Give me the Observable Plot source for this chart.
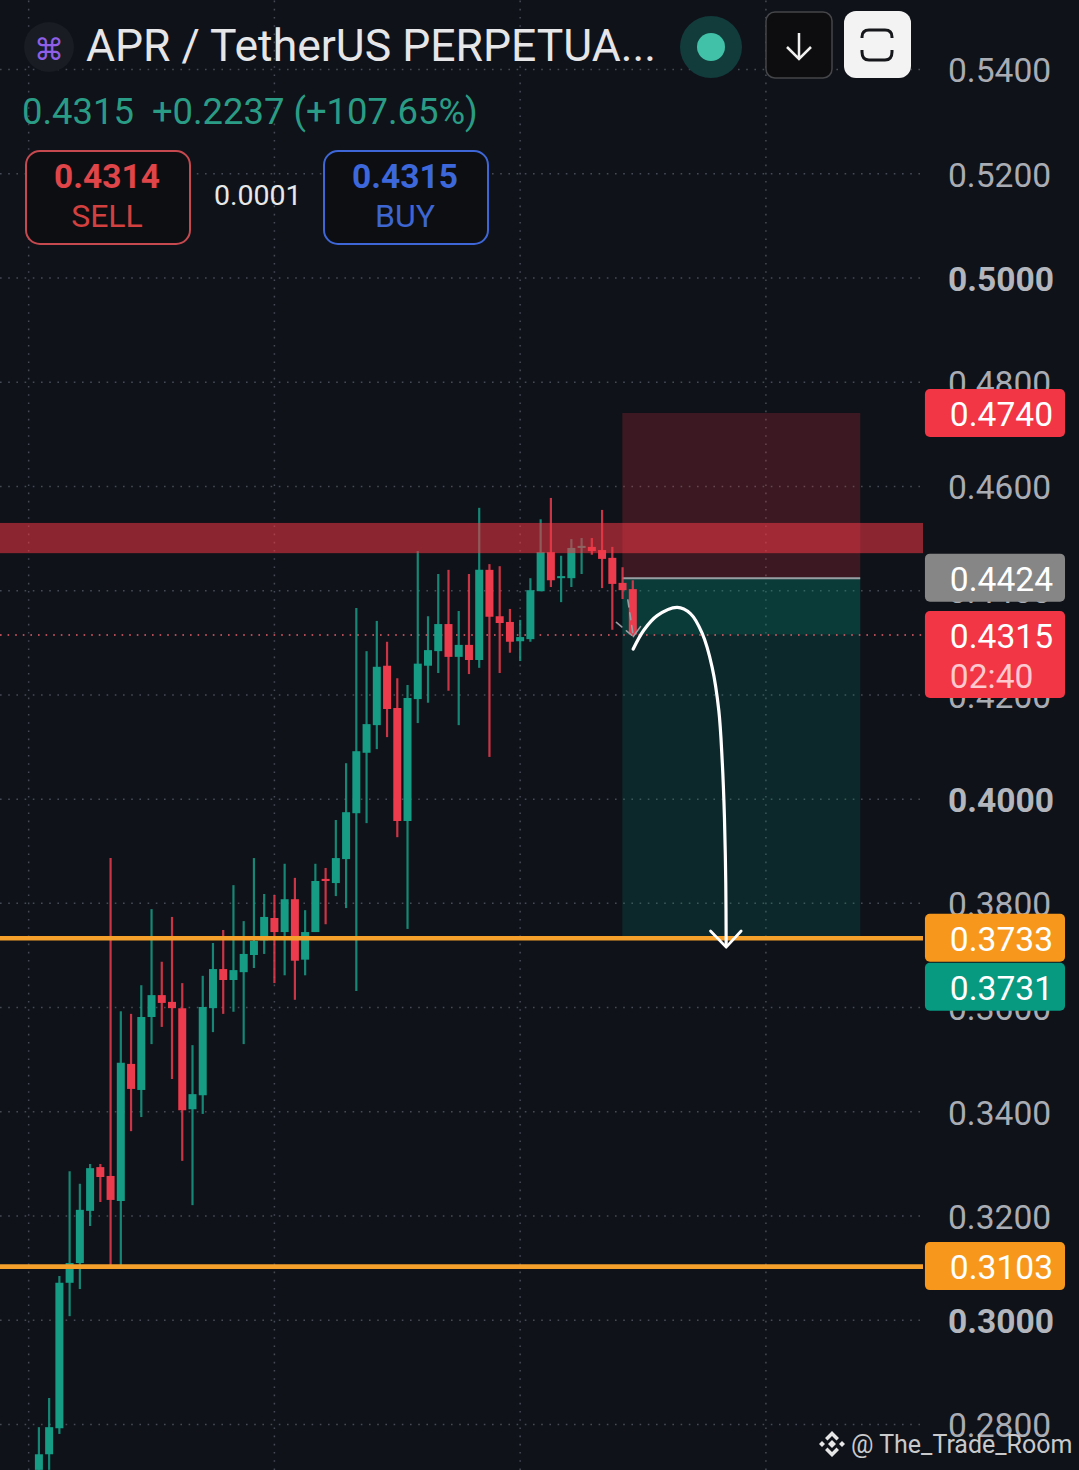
<!DOCTYPE html>
<html><head><meta charset="utf-8">
<script src="https://cdn.jsdelivr.net/npm/d3@7"></script>
<script src="https://cdn.jsdelivr.net/npm/@observablehq/plot@0.6"></script>
<style>
html,body{margin:0;padding:0;background:#0f1219;overflow:hidden}
#wrap{position:relative;width:1079px;height:1470px;font-family:Roboto,sans-serif}
#chart svg{display:block}
.o{position:absolute;white-space:nowrap;line-height:1}
.box{position:absolute;box-sizing:border-box;background:#0d0e11;border:2.5px solid;border-radius:15px;width:166px;height:95px;top:150px;text-align:center}
.box div{position:absolute;left:-2px;right:0;line-height:1}
</style></head><body>
<div id="wrap"><div id="chart"></div>
<svg class="o" style="left:0;top:0" width="1079" height="100">
  <circle cx="49" cy="47" r="25" fill="#191c22"/>
  <circle cx="711" cy="47" r="31" fill="#123c3c"/><circle cx="711" cy="47" r="14" fill="#41c1a7"/>
  <rect x="766" y="12" width="66" height="66" rx="9" fill="#0d0d0f" stroke="#45464a" stroke-width="1.5"/>
  <path d="M799 33V59M787 47L799 59L811 47" fill="none" stroke="#f0f0f0" stroke-width="2.5"/>
  <rect x="844" y="11" width="67" height="67" rx="12" fill="#f3f3f3"/>
  <path d="M862 38V37Q862 30 869 30H885Q892 30 892 37V38M862 50V52Q862 60 869 60H885Q892 60 892 52V50" fill="none" stroke="#15171b" stroke-width="3"/>
</svg>
<div class="o" style="left:34px;top:32px;width:30px;text-align:center;font:30px 'DejaVu Sans';color:#8f5fe8">⌘</div>
<div class="o" style="left:86px;top:24px;font-size:44.5px;color:#e6e6e9">APR / TetherUS PERPETUA...</div>
<div class="o" style="left:22px;top:94px;font-size:36.4px;color:#2a9c85">0.4315&nbsp; +0.2237 (+107.65%)</div>
<div class="box" style="left:25px;border-color:#c6494f"><div style="top:8px;font-size:33.5px;font-weight:700;color:#df4549">0.4314</div><div style="top:48px;font-size:32px;color:#d2403f">SELL</div></div>
<div class="o" style="left:214px;top:182px;font-size:28.5px;color:#e8e8e8">0.0001</div>
<div class="box" style="left:323px;border-color:#3e66d6"><div style="top:8px;font-size:33.5px;font-weight:700;color:#3d68dc">0.4315</div><div style="top:48px;font-size:32px;color:#3d66d2">BUY</div></div>
<svg class="o" style="left:818px;top:1430px" width="28" height="28" viewBox="0 0 28 28" fill="#e6e6e6">
  <path d="M14 1L21 8L18.5 10.5L14 6L9.500 10.500L7 8Z"/>
  <path d="M14 27L21 20L18.500 17.500L14 22L9.500 17.500L7 20Z"/>
  <path d="M14 10L18 14L14 18L10 14Z"/>
  <path d="M4 11L7 14L4 17L1 14Z"/>
  <path d="M24 11L27 14L24 17L21 14Z"/>
</svg>
<div class="o" style="left:851px;top:1432px;font-size:25px;color:#c9cacc">@ The_Trade_Room</div>
</div>
<script>
const opens=[.2712,.2742,.2792,.3071,.3109,.3209,.3293,.3276,.3228,.3491,.3441,.3581,.3623,.3610,.3598,.3404,.3431,.3598,.3673,.3652,.3667,.3700,.3728,.3771,.3744,.3807,.3691,.3744,.3846,.3838,.3884,.3972,.4088,.4141,.4255,.4174,.3957,.4191,.4255,.4283,.4335,.4272,.4295,.4266,.4439,.4350,.4339,.4302,.4306,.4398,.4473,.4423,.4423,.4481,.4483,.4477,.4462,.4414,.4402];
const highs=[.2794,.2850,.3084,.3285,.3261,.3299,.3299,.3886,.3592,.3587,.3642,.3788,.3687,.3773,.3646,.3527,.3660,.3723,.3748,.3834,.3765,.3886,.3817,.3815,.3875,.3848,.3786,.3875,.3867,.3959,.4068,.4366,.4283,.4341,.4301,.4231,.4218,.4475,.4350,.4431,.4439,.4360,.4431,.4558,.4450,.4446,.4364,.4343,.4423,.4536,.4577,.4466,.4498,.4500,.4500,.4554,.4483,.4444,.4419];
const lows=[.2712,.2712,.2781,.3007,.3059,.3180,.3226,.3103,.3103,.3362,.3389,.3529,.3562,.3462,.3305,.3220,.3395,.3552,.3587,.3591,.3529,.3675,.3702,.3646,.3661,.3614,.3661,.3744,.3759,.3813,.3790,.3631,.3953,.4095,.4118,.3926,.3750,.4145,.4184,.4241,.4207,.4141,.4239,.4251,.4080,.4241,.4280,.4264,.4301,.4398,.4406,.4377,.4406,.4431,.4468,.4404,.4324,.4383,.4312];
const closes=[.2742,.2794,.3071,.3109,.3211,.3291,.3274,.3230,.3493,.3443,.3581,.3623,.3608,.3598,.3402,.3433,.3600,.3673,.3652,.3671,.3702,.3727,.3773,.3744,.3807,.3689,.3744,.3842,.3842,.3886,.3974,.4091,.4143,.4253,.4172,.3957,.4193,.4259,.4285,.4335,.4272,.4295,.4266,.4439,.4349,.4337,.4301,.4310,.4400,.4473,.4419,.4427,.4481,.4485,.4475,.4460,.4412,.4400,.4315];
const regularTicks=[.54,.52,.48,.46,.44,.42,.38,.36,.34,.32,.28];
const boldTicks=[.50,.40,.30];
const sessionBreaks=[-1,23,47,71];
const curveX=[58.04,59.07,60.38,62.34,63.63,64.78,65.75,66.4,66.73,66.95,67.08,67.12];
const curveY=[.4288,.4324,.4352,.4368,.4356,.4318,.4253,.4170,.4074,.3965,.3838,.3719];
const headX=[65.59,67.12,68.58];
const headY=[.3747,.3716,.3747];
const supportLevels=[.3733,.3103];
const lastPrice=.4315, entry=.4424, stopLoss=.4740, target=.3733;
const zoneLow=.4471, zoneHigh=.4529;

const bars=opens.map((o,i)=>({i,o,h:highs[i],l:lows[i],c:closes[i]}));
const up="#169c85",down="#ec3b4d";
const col=d=>d.c>=d.o?up:down;
const left=-3.75,right=86.39,boxL=57.03,boxR=80.26,badgeL=86.58,badgeR=100.26,textX=88.96;
const allTicks=[...regularTicks,...boldTicks];
const dots={stroke:"#5a5e68",strokeDasharray:"1.6,6.6",strokeWidth:1.5,strokeOpacity:.75};
const pts=(xs,ys)=>xs.map((x,k)=>({x,y:ys[k]}));
function badge(value,fill,label,o={}){
  const top=o.top??24,bottom=o.bottom??24,dy=o.dy??0;
  return [
    Plot.rect([value],{x1:badgeL,x2:badgeR,y1:d=>d,y2:d=>d,insetTop:-top,insetBottom:-bottom,rx:5,fill,dy}),
    Plot.text([value],{x:textX,y:d=>d,text:()=>label,textAnchor:"start",fontSize:33.6,fontFamily:"Roboto",fill:"#fff",dy:dy+(o.tdy??2)})
  ];
}
const chart=Plot.plot({
  width:1079,height:1470,marginLeft:0,marginRight:156,marginTop:0,marginBottom:0,
  style:{background:"#0f1219",fontFamily:"Roboto"},
  x:{domain:[left,right],axis:null},
  y:{domain:[.27118,.55324],axis:null},
  marks:[
    Plot.ruleX(sessionBreaks,{y1:.27118,y2:.55324,...dots}),
    Plot.ruleY(allTicks,{x1:left,x2:right,...dots}),
    Plot.axisY(regularTicks,{anchor:"right",tickSize:0,tickPadding:24.5,textAnchor:"start",tickFormat:d=>d.toFixed(4),fontSize:33.6,fill:"#a9acb3",label:null,dy:2}),
    Plot.axisY(boldTicks,{anchor:"right",tickSize:0,tickPadding:24.5,textAnchor:"start",tickFormat:d=>d.toFixed(4),fontSize:33.6,fontWeight:700,fill:"#b3b6bc",label:null,dy:2}),
    // position box
    Plot.rect([0],{x1:boxL,x2:boxR,y1:entry,y2:stopLoss,fill:"#f23645",fillOpacity:.2}),
    Plot.rect([0],{x1:boxL,x2:boxR,y1:target,y2:entry,fill:"#089981",fillOpacity:.17}),
    Plot.rect([0],{x1:boxL,x2:boxR,y1:lastPrice,y2:entry,fill:"#089981",fillOpacity:.17}),
    Plot.ruleY([entry],{x1:boxL,x2:boxR,stroke:"#9a9ea3",strokeWidth:2}),
    Plot.ruleY([lastPrice],{x1:left,x2:right,stroke:"#e8606c",strokeDasharray:"1.6,6",strokeWidth:1.6}),
    // candles
    Plot.ruleX(bars,{x:"i",y1:"l",y2:"h",stroke:col,strokeWidth:2.2,strokeOpacity:.85}),
    Plot.ruleX(bars,{x:"i",y1:"o",y2:"c",stroke:col,strokeWidth:8}),
    // resistance band
    Plot.rect([0],{x1:left,x2:right,y1:zoneLow,y2:zoneHigh,fill:"#f23645",fillOpacity:.55}),
    // supports
    Plot.ruleY(supportLevels,{x1:left,x2:right,stroke:"#f5a02b",strokeWidth:4.6}),
    // gray guide beside the last candle
    Plot.line(pts([56.4,58.05,57.45],[.4339,.4312,.4391]),{x:"x",y:"y",stroke:"#9a9ea3",strokeWidth:1.6,strokeDasharray:"7,6"}),
    Plot.line(pts([58.75,58.05],[.4331,.4312]),{x:"x",y:"y",stroke:"#9a9ea3",strokeWidth:1.6}),
    // drawn path
    Plot.line(pts(curveX,curveY),{x:"x",y:"y",curve:"catmull-rom",stroke:"#fff",strokeWidth:3.2}),
    Plot.line(pts(headX,headY),{x:"x",y:"y",stroke:"#fff",strokeWidth:2.8}),
    // badges
    ...badge(stopLoss,"#f23645","0.4740"),
    ...badge(entry,"#868686","0.4424"),
    ...badge(lastPrice,"#f23645","0.4315",{top:23.5,bottom:63.5}),
    Plot.text([lastPrice],{x:textX,y:d=>d,text:()=>"02:40",textAnchor:"start",fontSize:33.6,fontFamily:"Roboto",fill:"#ffc9cf",dy:42}),
    ...badge(target,"#f7981d","0.3733"),
    ...badge(.3731,"#089981","0.3731",{dy:48}),
    ...badge(.3103,"#f7981d","0.3103")
  ]
});
document.getElementById("chart").appendChild(chart);
</script>
</body></html>
